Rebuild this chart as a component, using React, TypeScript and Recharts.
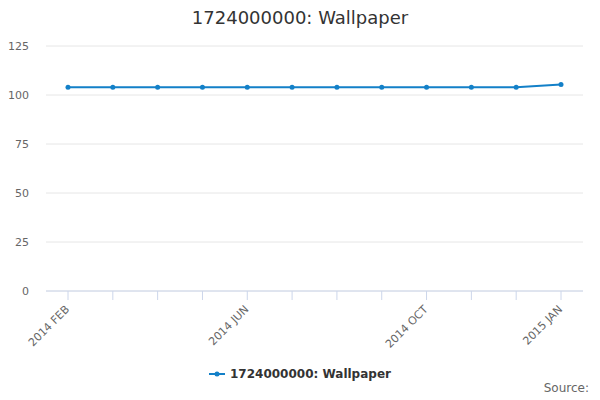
import { LineChart, Line, XAxis, YAxis, CartesianGrid } from "recharts";

const months = [
  "2014 FEB",
  "2014 MAR",
  "2014 APR",
  "2014 MAY",
  "2014 JUN",
  "2014 JUL",
  "2014 AUG",
  "2014 SEP",
  "2014 OCT",
  "2014 NOV",
  "2014 DEC",
  "2015 JAN",
];
const wallpaper = [104, 104, 104, 104, 104, 104, 104, 104, 104, 104, 104, 105.3];
const labelledMonths = ["2014 FEB", "2014 JUN", "2014 OCT", "2015 JAN"];
const yTicks = [0, 25, 50, 75, 100, 125];

const SERIES_NAME = "1724000000: Wallpaper";
const COLOR = "#1380c8";
const FONT = "'DejaVu Sans', sans-serif";

const data = months.map((m, i) => ({ month: m, value: wallpaper[i] }));

function MonthTick(props: any) {
  const { x, y, payload } = props;
  if (!labelledMonths.includes(payload.value)) return null;
  return (
    <g transform={`translate(${x + 2},${y + 8})`}>
      <text
        textAnchor="end"
        transform="rotate(-45)"
        fontSize={11}
        fill="#666"
        fontFamily={FONT}
      >
        {payload.value}
      </text>
    </g>
  );
}

export default function App() {
  return (
    <div style={{ position: "relative", width: 600, height: 400, margin: -8, background: "#fff", overflow: "hidden" }}>
      <div
        style={{
          position: "absolute",
          top: 7,
          left: 0,
          width: 600,
          textAlign: "center",
          fontFamily: FONT,
          fontSize: 18,
          color: "#333",
        }}
      >
        {SERIES_NAME}
      </div>
      <LineChart
        width={600}
        height={400}
        data={data}
        margin={{ top: 46, right: 17, bottom: 79, left: 0 }}
      >
        <CartesianGrid vertical={false} stroke="#e6e6e6" />
        <XAxis
          dataKey="month"
          interval={0}
          padding={{ left: 22, right: 22 }}
          stroke="#ccd6eb"
          tickSize={9}
          tick={<MonthTick />}
        />
        <YAxis
          domain={[0, 125]}
          ticks={yTicks}
          width={46}
          axisLine={false}
          tickLine={false}
          tickSize={0}
          tickMargin={17}
          tick={{ fontSize: 11, fill: "#666", fontFamily: FONT }}
        />
        <Line
          dataKey="value"
          name={SERIES_NAME}
          stroke={COLOR}
          strokeWidth={2}
          dot={{ r: 2.5, fill: COLOR, stroke: COLOR, strokeWidth: 0 }}
          isAnimationActive={false}
        />
      </LineChart>
      <div
        style={{
          position: "absolute",
          top: 367,
          left: 0,
          width: 600,
          display: "flex",
          justifyContent: "center",
          alignItems: "center",
          fontFamily: FONT,
          fontSize: 12,
          fontWeight: "bold",
          color: "#333",
        }}
      >
        <svg width={16} height={10} style={{ marginRight: 5 }}>
          <line x1={0} y1={5} x2={16} y2={5} stroke={COLOR} strokeWidth={2} />
          <circle cx={8} cy={5} r={2.5} fill={COLOR} />
        </svg>
        {SERIES_NAME}
      </div>
      <div
        style={{
          position: "absolute",
          right: 11,
          top: 381,
          fontFamily: FONT,
          fontSize: 12,
          color: "#666",
        }}
      >
        Source:
      </div>
    </div>
  );
}
